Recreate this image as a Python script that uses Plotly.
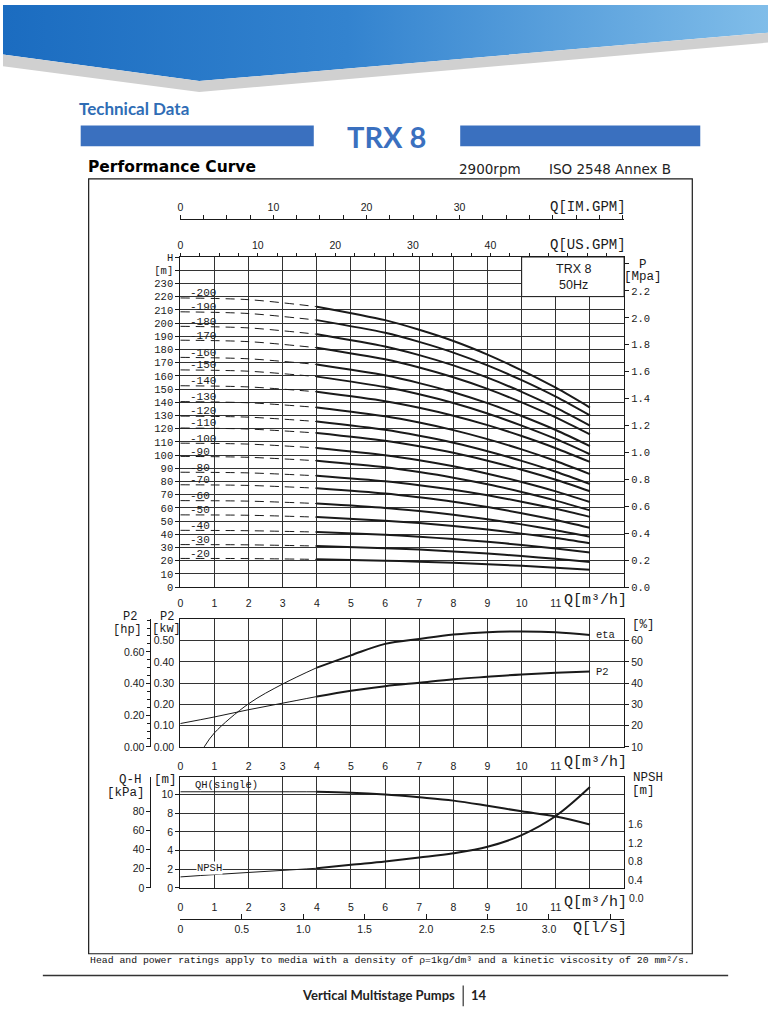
import plotly.graph_objects as go

W, H = 768, 1024


def px(x):
    return x / W


def py(y):
    return 1 - y / H


# ---------------- data ----------------
q_main = [0, 2, 4, 6, 7, 8, 9, 10, 11, 12]          # m3/h
stage_labels = ["-200", "-190", "-180", "-170", "-160", "-150", "-140", "-130", "-120", "-110",
                "-100", "-90", "-80", "-70", "-60", "-50", "-40", "-30", "-20"]
h_200 = [219.0, 217.7, 212.4, 202.2, 194.9, 186.4, 176.1, 164.2, 151.0, 136.0]
h_190 = [208.5, 207.2, 202.2, 192.6, 185.7, 177.6, 167.9, 156.7, 144.2, 130.0]
h_180 = [197.5, 196.3, 191.5, 182.2, 175.7, 167.9, 158.6, 147.9, 135.9, 122.3]
h_170 = [187.0, 185.9, 181.3, 172.5, 166.3, 158.9, 150.1, 139.9, 128.5, 115.6]
h_160 = [174.0, 172.9, 168.6, 160.4, 154.5, 147.6, 139.3, 129.6, 119.0, 106.8]
h_150 = [164.5, 163.5, 159.4, 151.5, 146.0, 139.4, 131.5, 122.3, 112.2, 100.6]
h_140 = [152.5, 151.6, 147.9, 140.8, 135.8, 129.8, 122.7, 114.4, 105.2, 94.8]
h_130 = [140.5, 139.6, 136.1, 129.4, 124.6, 118.9, 112.1, 104.3, 95.5, 85.6]
h_120 = [129.5, 128.7, 125.4, 119.1, 114.6, 109.3, 102.9, 95.6, 87.4, 78.1]
h_110 = [120.5, 119.7, 116.7, 110.8, 106.6, 101.7, 95.7, 88.9, 81.3, 72.6]
h_100 = [109.0, 108.3, 105.4, 99.9, 96.1, 91.5, 85.9, 79.6, 72.5, 64.4]
h_90 = [99.0, 98.3, 95.7, 90.7, 87.1, 82.9, 77.9, 72.0, 65.5, 58.1]
h_80 = [87.0, 86.5, 84.3, 80.1, 77.2, 73.7, 69.5, 64.7, 59.3, 53.2]
h_70 = [77.5, 77.0, 74.9, 70.9, 68.0, 64.7, 60.6, 56.0, 50.8, 44.9]
h_60 = [65.5, 65.1, 63.3, 60.0, 57.6, 54.8, 51.4, 47.5, 43.1, 38.2]
h_50 = [54.7, 54.4, 53.0, 50.3, 48.5, 46.3, 43.6, 40.5, 37.1, 33.2]
h_40 = [43.0, 42.7, 41.7, 39.6, 38.1, 36.4, 34.3, 31.9, 29.2, 26.2]
h_30 = [32.2, 32.0, 31.1, 29.5, 28.4, 27.0, 25.4, 23.5, 21.4, 19.0]
h_20 = [21.7, 21.6, 21.0, 20.0, 19.2, 18.4, 17.3, 16.1, 14.7, 13.2]
head_curves = [h_200, h_190, h_180, h_170, h_160, h_150, h_140, h_130, h_120, h_110,
               h_100, h_90, h_80, h_70, h_60, h_50, h_40, h_30, h_20]

q_perf = [0, 1, 2, 3, 4, 5, 6, 7, 8, 9, 10, 11, 12]
p2_kw = [0.110, 0.141, 0.175, 0.206, 0.237, 0.264, 0.286, 0.302, 0.318, 0.330, 0.341, 0.349, 0.355]
q_eta = [0.7, 1, 2, 3, 4, 5, 6, 7, 8, 9, 10, 11, 12]
eta_pct = [10.0, 16.6, 30.3, 39.6, 47.3, 53.1, 58.5, 60.8, 62.9, 64.0, 64.3, 64.0, 62.7]
qh_single_m = [10.3, 10.3, 10.3, 10.3, 10.3, 10.2, 10.0, 9.7, 9.35, 8.8, 8.2, 7.65, 6.8]
npsh_m = [1.17, 1.42, 1.65, 1.87, 2.1, 2.47, 2.82, 3.24, 3.7, 4.4, 5.65, 7.7, 10.8]

us_gpm_ticks = [0, 10, 20, 30, 40]
im_gpm_ticks = [0, 10, 20, 30]
ls_ticks = [0, 0.5, 1.0, 1.5, 2.0, 2.5, 3.0, 3.5]
ls_text = ["0", "0.5", "1.0", "1.5", "2.0", "2.5", "3.0", ""]
mpa_ticks = [0.0, 0.2, 0.4, 0.6, 0.8, 1.0, 1.2, 1.4, 1.6, 1.8, 2.0, 2.2, 2.4]
npsh_ticks = [0.4, 0.8, 1.2, 1.6]

# unit conversions
M3H_TO_USGPM = 4.4029
M3H_TO_IMGPM = 3.6662
M3H_TO_LS = 1 / 3.6
M_TO_MPA = 0.00980665
KW_TO_HP = 1 / 0.7457
M_TO_KPA = 9.80665

Q_MAX = 13.0
H_MAX = 250.0
KW_MAX = 0.6
M_MAX = 11.9

MONO = "Liberation Mono"
SANS = "Liberation Sans"
INK = "#1a1a1a"
GRID = "#333333"

fig = go.Figure()

# ---------------- header band ----------------
fig.add_trace(go.Scatter(
    x=[0, 768, 768, 197, 0, 0], y=[0, 0, 28, 77, 50, 0], xaxis="x7", yaxis="y9",
    mode="none", fill="toself",
    fillgradient=dict(type="horizontal",
                      colorscale=[[0, "#1b6cc0"], [0.45, "#3383cf"], [1, "#80bde9"]]),
    hoverinfo="skip", showlegend=False))
fig.add_trace(go.Scatter(
    x=[0, 197, 768, 768, 197, 0, 0], y=[50, 77, 28, 38, 88, 62, 50], xaxis="x7", yaxis="y9",
    mode="none", fill="toself", fillcolor="#d0d0d0", hoverinfo="skip", showlegend=False))

# ---------------- main head curves ----------------
for lab, hv in zip(stage_labels, head_curves):
    fig.add_trace(go.Scatter(x=q_main[:3], y=hv[:3], mode="lines",
                             line=dict(color=INK, width=1, dash="9px,6px", shape="spline", smoothing=0.8),
                             hoverinfo="skip", showlegend=False))
    fig.add_trace(go.Scatter(x=q_main[2:], y=hv[2:], mode="lines",
                             line=dict(color=INK, width=2, shape="spline", smoothing=0.8),
                             hoverinfo="skip", showlegend=False))

# dummy traces so every axis pair is drawn
for xa, ya in [("x", "y2"), ("x2", "y"), ("x3", "y"), ("x4", "y5"), ("x5", "y7"),
               ("x5", "y8"), ("x6", "y6")]:
    fig.add_trace(go.Scatter(x=[0.01], y=[0.3], xaxis=xa, yaxis=ya, mode="markers",
                             marker=dict(opacity=0), hoverinfo="skip", showlegend=False))

# ---------------- power / efficiency ----------------
fig.add_trace(go.Scatter(x=q_perf[:5], y=p2_kw[:5], xaxis="x4", yaxis="y3", mode="lines",
                         line_shape="spline", line=dict(color=INK, width=1),
                         hoverinfo="skip", showlegend=False))
fig.add_trace(go.Scatter(x=q_perf[4:], y=p2_kw[4:], xaxis="x4", yaxis="y3", mode="lines",
                         line_shape="spline", line=dict(color=INK, width=2),
                         hoverinfo="skip", showlegend=False))
fig.add_trace(go.Scatter(x=q_eta[:5], y=eta_pct[:5], xaxis="x4", yaxis="y4", mode="lines",
                         line_shape="spline", line=dict(color=INK, width=1),
                         hoverinfo="skip", showlegend=False))
fig.add_trace(go.Scatter(x=q_eta[4:], y=eta_pct[4:], xaxis="x4", yaxis="y4", mode="lines",
                         line_shape="spline", line=dict(color=INK, width=2),
                         hoverinfo="skip", showlegend=False))

# ---------------- single stage QH / NPSH ----------------
for vals in (qh_single_m, npsh_m):
    fig.add_trace(go.Scatter(x=q_perf[:5], y=vals[:5], xaxis="x5", yaxis="y6", mode="lines",
                             line_shape="spline", line=dict(color=INK, width=1),
                             hoverinfo="skip", showlegend=False))
    fig.add_trace(go.Scatter(x=q_perf[4:], y=vals[4:], xaxis="x5", yaxis="y6", mode="lines",
                             line_shape="spline", line=dict(color=INK, width=2),
                             hoverinfo="skip", showlegend=False))

# ---------------- axes ----------------
XDOM = [px(178), px(623.5)]
sans_tick = dict(family=SANS, size=10.5, color=INK)
mono_tick = dict(family=MONO, size=10.5, color=INK)

q_tickvals = list(range(13))
q_ticktext = [str(i) for i in range(12)] + [""]

base_x = dict(domain=XDOM, range=[0, Q_MAX], tickvals=q_tickvals, ticktext=q_ticktext,
              showgrid=True, gridcolor=GRID, gridwidth=1, showline=True, mirror=True,
              linecolor=INK, linewidth=1, ticks="", tickfont=sans_tick, zeroline=False)

layout = dict(
    width=W, height=H, margin=dict(l=0, r=0, t=0, b=0),
    paper_bgcolor="white", plot_bgcolor="rgba(0,0,0,0)", showlegend=False,
    # main plot
    xaxis=dict(base_x, anchor="y", ticklabelstandoff=6),
    yaxis=dict(domain=[py(589), py(255)], range=[0, H_MAX], anchor="x",
               tickvals=list(range(0, 260, 10)),
               ticktext=[str(v) for v in range(0, 240, 10)] + ["[m]", "H"],
               showgrid=True, gridcolor=GRID, showline=True, mirror=True, linecolor=INK,
               ticks="outside", ticklen=4, tickcolor=INK, tickfont=mono_tick, zeroline=False),
    yaxis2=dict(overlaying="y", side="right", anchor="x", range=[0, H_MAX * M_TO_MPA],
                tickvals=mpa_ticks, ticktext=[f"{v:.1f}" for v in mpa_ticks[:-1]] + [""],
                showgrid=False, showline=False, ticks="outside", ticklen=4, tickcolor=INK,
                tickfont=mono_tick, zeroline=False),
    xaxis2=dict(overlaying="x", side="top", anchor="y", domain=XDOM,
                range=[0, Q_MAX * M3H_TO_USGPM], tickvals=us_gpm_ticks,
                ticks="outside", ticklen=3, tickcolor=INK, tickfont=sans_tick,
                minor=dict(tick0=0, dtick=2.5, ticks="outside", ticklen=3, tickcolor=INK,
                           showgrid=False),
                showgrid=False, showline=False, zeroline=False),
    xaxis3=dict(overlaying="x", side="top", anchor="free", position=py(217), domain=XDOM,
                range=[0, Q_MAX * M3H_TO_IMGPM], tickvals=im_gpm_ticks,
                ticks="outside", ticklen=4, tickcolor=INK, tickfont=sans_tick,
                minor=dict(tick0=0, dtick=2.5, ticks="outside", ticklen=4, tickcolor=INK,
                           showgrid=False),
                showgrid=False, showline=True, linecolor=INK, zeroline=False),
    # power / eta plot
    xaxis4=dict(base_x, anchor="y3", ticklabelstandoff=9),
    yaxis3=dict(domain=[py(750.7), py(621.7)], range=[0, KW_MAX], anchor="x4",
                tickvals=[0, 0.1, 0.2, 0.3, 0.4, 0.5, 0.6],
                ticktext=["0.00", "0.10", "0.20", "0.30", "0.40", "0.50", ""],
                showgrid=True, gridcolor=GRID, showline=True, mirror=True, linecolor=INK,
                ticks="", tickfont=sans_tick, zeroline=False, ticklabelstandoff=3),
    yaxis4=dict(overlaying="y3", side="right", anchor="x4", range=[10, 70],
                tickvals=[10, 20, 30, 40, 50, 60], showgrid=False, showline=False,
                ticks="outside", ticklen=4, tickcolor=INK, tickfont=sans_tick, zeroline=False),
    yaxis5=dict(overlaying="y3", side="left", anchor="free", position=px(148),
                range=[0, KW_MAX * KW_TO_HP], tickvals=[0, 0.2, 0.4, 0.6],
                ticktext=["0.00", "0.20", "0.40", "0.60"], showgrid=False, showline=True,
                linecolor=INK, ticks="outside", ticklen=4, tickcolor=INK, tickfont=sans_tick,
                minor=dict(dtick=0.05, ticks="outside", ticklen=3, tickcolor=INK, showgrid=False),
                zeroline=False),
    # QH single / NPSH plot
    xaxis5=dict(base_x, anchor="y6", ticklabelstandoff=10),
    yaxis6=dict(domain=[py(893.3), py(781)], range=[0, M_MAX], anchor="x5",
                tickvals=[0, 2, 4, 6, 8, 10], showgrid=True, gridcolor=GRID, showline=True,
                mirror=True, linecolor=INK, ticks="outside", ticklen=4, tickcolor=INK,
                tickfont=sans_tick, zeroline=False),
    yaxis7=dict(overlaying="y6", side="right", anchor="x5",
                range=[(903.8 - 893.3) / 46.5, (903.8 - 781) / 46.5],
                tickvals=npsh_ticks, ticktext=[f"{v:.1f}" for v in npsh_ticks],
                showgrid=False, showline=False, ticks="", tickfont=sans_tick, zeroline=False,
                ticklabelstandoff=3),
    yaxis8=dict(overlaying="y6", side="left", anchor="free", position=px(148),
                range=[0, M_MAX * M_TO_KPA], tickvals=[0, 20, 40, 60, 80],
                showgrid=False, showline=True, linecolor=INK, ticks="outside", ticklen=4,
                tickcolor=INK, tickfont=sans_tick, zeroline=False),
    xaxis6=dict(overlaying="x5", side="bottom", anchor="free", position=py(925), domain=XDOM,
                range=[0, Q_MAX * M3H_TO_LS], tickvals=ls_ticks, ticktext=ls_text,
                ticks="inside", ticklen=5, tickcolor=INK, tickfont=sans_tick,
                showgrid=False, showline=True, linecolor=INK, zeroline=False),
    # header helper axes (pixel units)
    xaxis7=dict(domain=[0, 1], range=[0, 768], anchor="y9", visible=False, fixedrange=True),
    yaxis9=dict(domain=[py(92), 1], range=[92, 0], anchor="x7", visible=False, fixedrange=True),
)
fig.update_layout(**layout)

# ---------------- shapes ----------------
shapes = [
    # title bars
    dict(type="rect", xref="paper", yref="paper", x0=px(78), x1=px(312), y0=py(143), y1=py(122),
         fillcolor="#3a70bf", line=dict(width=0)),
    dict(type="rect", xref="paper", yref="paper", x0=px(459), x1=px(700), y0=py(143), y1=py(122),
         fillcolor="#3a70bf", line=dict(width=0)),
    # outer frame
    dict(type="rect", xref="paper", yref="paper", x0=px(86), x1=px(692), y0=py(960), y1=py(176),
         line=dict(color=INK, width=1.2), fillcolor="rgba(0,0,0,0)"),
    # TRX 8 box in the head chart
    dict(type="rect", xref="x", yref="y", x0=10, x1=Q_MAX, y0=220, y1=H_MAX, layer="above",
         fillcolor="white", line=dict(color=INK, width=1)),
    # footer rule and separator
    dict(type="line", xref="paper", yref="paper", x0=px(40), x1=px(728), y0=py(982), y1=py(982),
         line=dict(color="#333333", width=1.5)),
    dict(type="line", xref="paper", yref="paper", x0=px(462), x1=px(462), y0=py(992), y1=py(1013),
         line=dict(color="#333333", width=1.2)),
]
fig.update_layout(shapes=shapes)

# ---------------- annotations ----------------
ann = []


def txt(x, y, s, size=11, family=MONO, xanchor="center", color=INK, bold=False, **kw):
    if bold:
        s = f"<b>{s}</b>"
    ann.append(dict(x=px(x), y=py(y), xref="paper", yref="paper", text=s, showarrow=False,
                    xanchor=xanchor, yanchor="middle", font=dict(family=family, size=size, color=color),
                    **kw))


# header
txt(74, 105, "Technical Data", size=17, family="Lato", xanchor="left", color="#2f6db5", bold=True)
txt(385, 133, "TRX 8", size=29, family="Lato", color="#3a70bf", bold=True)
txt(83, 164, "Performance Curve", size=15.5, family="DejaVu Sans", xanchor="left", color="black", bold=True)
txt(456, 166, "2900rpm", size=13.5, family="DejaVu Sans", xanchor="left", color="#222")
txt(546, 166, "ISO 2548 Annex B", size=13.5, family="DejaVu Sans", xanchor="left", color="#222")

# axis captions
txt(627, 204, "Q[IM.GPM]", size=14, xanchor="right")
txt(627, 243, "Q[US.GPM]", size=14, xanchor="right")
txt(573, 267, "TRX 8", size=12.5, family=SANS)
txt(573, 283, "50Hz", size=12.5, family=SANS)
txt(643, 263, "P", size=12.5)
txt(643, 275, "[Mpa]", size=12.5)
for yy in (603, 766, 908):
    txt(628, yy, "Q[m³/h]", size=15, xanchor="right")
txt(628, 934, "Q[l/s]", size=15, xanchor="right")

txt(127, 619, "P2", size=12)
txt(125, 632, "[hp]", size=12)
txt(165, 619, "P2", size=12)
txt(164, 631, "[kw]", size=12)
txt(643, 627, "[%]", size=12.5)
txt(593, 637, "eta", size=10.5, xanchor="left")
txt(593, 675, "P2", size=10.5, xanchor="left")

txt(128, 784, "Q-H", size=12.5)
txt(123, 797, "[kPa]", size=12.5)
txt(163, 784, "[m]", size=12.5)
txt(191, 789, "QH(single)", size=10.5, xanchor="left")
txt(194, 873, "NPSH", size=10.5, xanchor="left", bgcolor="white", borderpad=0)
txt(648, 782, "NPSH", size=12.5)
txt(643, 795, "[m]", size=12.5)
txt(626, 904, "0.0", size=10.5, family=SANS, xanchor="left")

# stage labels, placed just above each curve's shut-off head
for lab, hv in zip(stage_labels, head_curves):
    ann.append(dict(x=0.22, y=hv[0] + 3.5, xref="x", yref="y", text=lab, showarrow=False,
                    xanchor="left", yanchor="middle", font=dict(family=MONO, size=11, color=INK)))

# footnote and footer
txt(85, 966.5, "Head and power ratings apply to media with a density of ρ=1kg/dm³ and a kinetic "
    "viscosity of 20 mm²/s.", size=9.8, xanchor="left", color="#111")
txt(456, 1002, "Vertical Multistage Pumps", size=13, family="Lato", xanchor="right", color="#222", bold=True)
txt(468, 1002, "14", size=13, family="Lato", xanchor="left", color="#222", bold=True)

fig.update_layout(annotations=ann)

fig.write_html(
    "out.html",
    config={"displayModeBar": False},
    post_script="document.body.style.margin='0px';document.body.style.padding='0px';"
                "document.body.style.overflow='hidden';",
)
